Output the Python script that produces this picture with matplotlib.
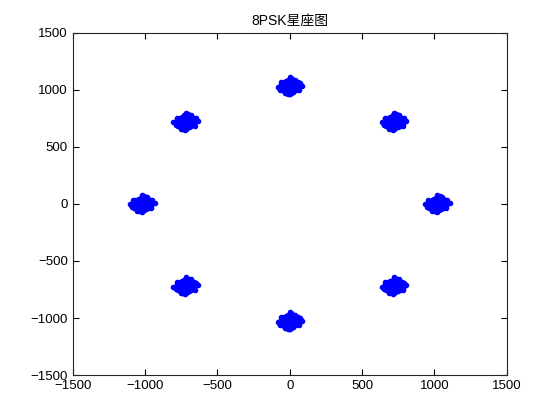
import matplotlib
matplotlib.use("Agg")
import matplotlib.pyplot as plt
import numpy as np

plt.rcParams['font.family'] = ['Liberation Sans', 'Noto Sans CJK SC', 'DejaVu Sans']

center_i = [1020, 720, 0, -720, -1020, -720, 0, 720]
center_q = [0, 720, 1030, 720, 0, -720, -1030, -720]
# hand-read scatter offsets within each cluster (shared shape)
off_i = [0, 20, -20, 40, -40, 10, -10, 55, -55, 30, -30, 65, -65, 15, -15, 45, -45, 5, -5, 35,
         -35, 75, -75, 25, -25, 50, -50, 60, -60, 0, 85, -85, 20, -20, 40, -40, 10, -10, 30, -30,
         0, 15, -15, 45, -45, 55, -55, 25, -25, 5, 70, -70, 62, -62, 35, -35,
         0, 12, -12, 22, -22, 8, -8, 28, -28, 18, -18, 0, 0, 35, -35, 15, -15]
off_q = [0, 10, -10, 25, -25, 40, -40, 15, -15, 50, -50, 5, -5, 60, -60, 30, -30, 70, -70, 20,
         -20, 10, -10, 55, -55, 35, -35, -20, 20, 80, 5, -5, -45, 45, -35, 35, -55, 55, -30, 30,
         -65, 65, -65, 10, -10, 35, -35, -45, 45, 25, 30, -30, -35, 35, 60, -60,
         12, 0, 0, -15, 15, 28, -28, 8, -8, -25, 25, 22, -22, 0, 5, 40, -40]

fig = plt.figure(figsize=(5.6, 4.2), dpi=100)
ax = fig.add_axes([0.13, 0.107, 0.775, 0.815])
for ci, cq in zip(center_i, center_q):
    ax.plot(ci + np.array(off_i), cq + np.array(off_q), '.', color='#0000ff',
            markersize=6, linestyle='none')
ax.set_xlim(-1500, 1500)
ax.set_ylim(-1500, 1500)
ax.set_xticks(range(-1500, 1501, 500))
ax.set_yticks(range(-1500, 1501, 500))
ax.tick_params(direction='in', top=True, right=True, labelsize=9.5, length=4)
for s in ax.spines.values():
    s.set_color('#262626')
ax.set_title('8PSK星座图', fontsize=10)
fig.savefig('out.png')
